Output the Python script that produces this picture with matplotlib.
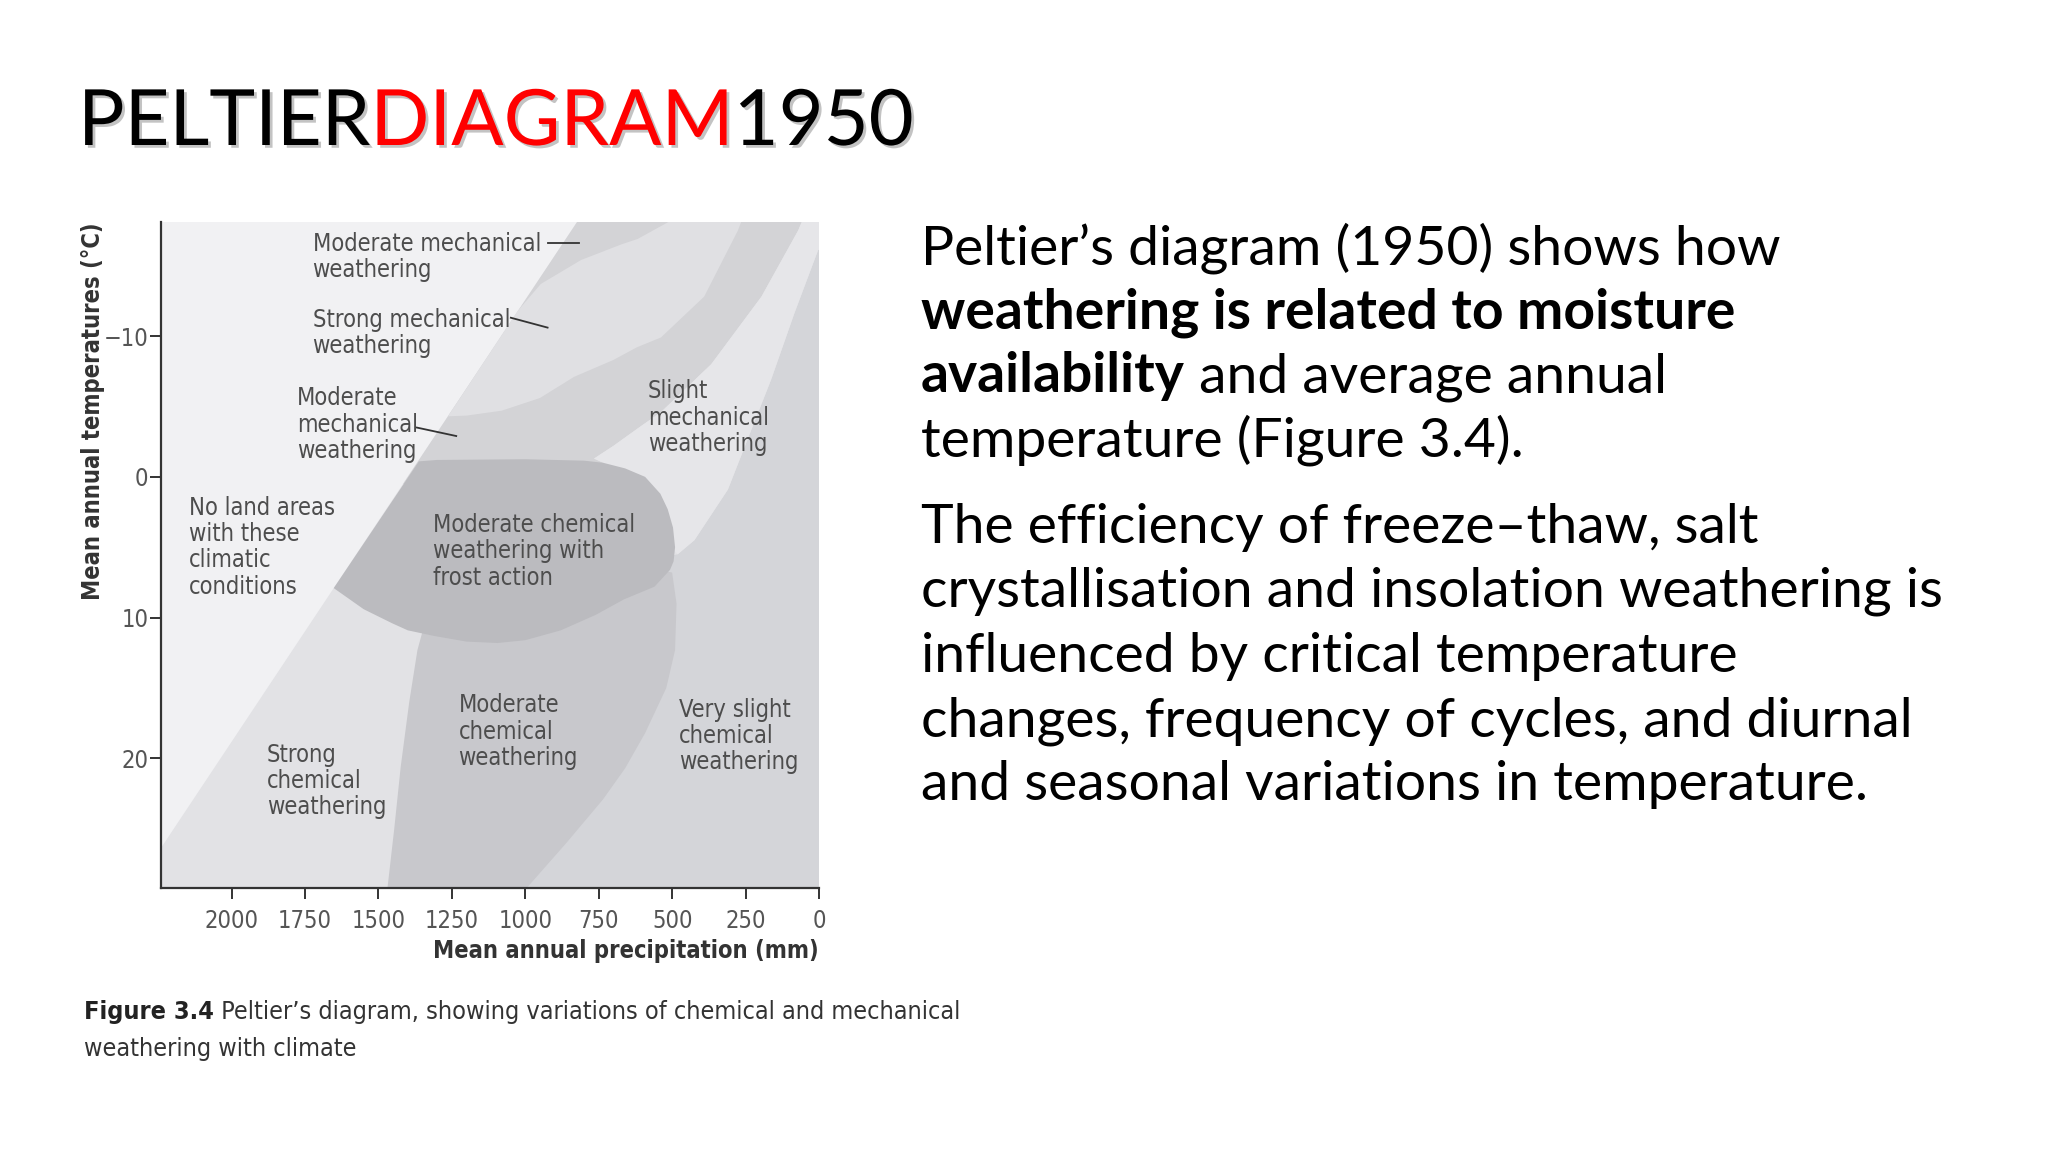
import matplotlib
matplotlib.use("Agg")
import matplotlib.pyplot as plt
import matplotlib.patheffects as pe
from matplotlib.patches import Polygon
from matplotlib.transforms import IdentityTransform
from matplotlib import font_manager
from matplotlib.font_manager import FontProperties

# axis ticks
precip_ticks = [2000, 1750, 1500, 1250, 1000, 750, 500, 250, 0]
temp_ticks = [-10, 0, 10, 20]
temp_tick_labels = ["\u221210", "0", "10", "20"]

# region outlines, as (precipitation mm, temperature degC)
land_area = [(2388, 31), (763, -20), (-50, -20), (-50, 31)]
very_slight_chem = [(-50, 31), (1100, 31), (900, 20), (700, 12), (600, 6), (481, 5.5),
                    (424, 4.5), (310, 0.9), (231, -3.3), (163, -6.9), (84, -11.6),
                    (3, -16.1), (-50, -16.6)]
moderate_chem = [(1480, 31), (1469, 29.2), (1446, 25), (1424, 20.6), (1395, 16),
                 (1367, 12.3), (1350, 11), (1000, 11), (700, 8.5), (540, 6.6), (500, 6.8),
                 (485, 9), (490, 12.3), (520, 15), (592, 18.2), (660, 20.7), (735, 22.9),
                 (860, 26), (995, 29.2), (1010, 31)]
moderate_mech = [(1416, 0.5), (763, -20), (20, -20), (71, -17.5), (196, -12.8), (367, -8.0),
                 (538, -4.6), (620, -3.4), (700, -2.2), (766, -1.3), (735, -1.0), (700, 0.5)]
strong_mech = [(1263, -4.3), (1025, -11.8), (947, -13.7), (810, -15.4), (674, -16.5),
               (617, -16.9), (504, -18.2), (470, -20), (230, -20), (276, -17.5), (391, -12.8),
               (538, -9.9), (620, -9.2), (700, -8.3), (834, -7.1), (950, -5.6), (1080, -4.7),
               (1200, -4.35)]
slight_mech = [(20, -20), (-50, -20), (-50, -16.6), (3, -16.1), (84, -11.6), (163, -6.9),
               (231, -3.3), (310, 0.9), (424, 4.5), (481, 5.5), (600, 3), (700, 0.5),
               (735, -1.0), (766, -1.3), (700, -2.2), (620, -3.4), (538, -4.6), (367, -8.0),
               (196, -12.8), (71, -17.5)]
frost_action = [(1362, -1.1), (1300, -1.2), (1000, -1.25), (800, -1.15), (735, -1.0),
                (660, -0.6), (592, 0), (540, 1.2), (515, 2.3), (497, 3.6), (490, 5.0),
                (495, 6.0), (507, 6.6), (560, 7.8), (664, 8.7), (760, 9.8), (879, 10.9),
                (1000, 11.6), (1094, 11.8), (1200, 11.7), (1310, 11.3), (1400, 10.9),
                (1453, 10.4), (1550, 9.4), (1652, 7.9)]

regions = [
    (land_area, "#e2e2e5"),
    (very_slight_chem, "#d4d5d9"),
    (moderate_chem, "#c8c8cc"),
    (moderate_mech, "#d3d3d6"),
    (strong_mech, "#e0e0e3"),
    (slight_mech, "#e6e6e9"),
    (frost_action, "#bbbbbf"),
]

# labels: (text, precip, temp)
labels = [
    ("Moderate mechanical\nweathering", 1724, -15.6),
    ("Strong mechanical\nweathering", 1724, -10.2),
    ("Moderate\nmechanical\nweathering", 1778, -3.7),
    ("No land areas\nwith these\nclimatic\nconditions", 2146, 5.0),
    ("Moderate chemical\nweathering with\nfrost action", 1315, 5.3),
    ("Slight\nmechanical\nweathering", 582, -4.2),
    ("Moderate\nchemical\nweathering", 1227, 18.1),
    ("Strong\nchemical\nweathering", 1880, 21.6),
    ("Very slight\nchemical\nweathering", 476, 18.4),
]
pointers = [((924, -16.6), (818, -16.6)),
            ((1049, -11.3), (924, -10.6)),
            ((1369, -3.5), (1235, -2.9))]

body_lines = [
    [("Peltier\u2019s diagram (1950) shows how", "normal")],
    [("weathering is related to moisture", "bold")],
    [("availability", "bold"), (" and average annual", "normal")],
    [("temperature (Figure 3.4).", "normal")],
    None,
    [("The efficiency of freeze\u2013thaw, salt", "normal")],
    [("crystallisation and insolation weathering is", "normal")],
    [("influenced by critical temperature", "normal")],
    [("changes, frequency of cycles, and diurnal", "normal")],
    [("and seasonal variations in temperature.", "normal")],
]

caption_runs = [("Figure 3.4", "bold", "#222222"),
                (" Peltier\u2019s diagram, showing variations of chemical and mechanical", "normal", "#333333")]
caption_line2 = [("weathering with climate", "normal", "#333333")]


def weight_value(w):
    if isinstance(w, str):
        return {"normal": 400, "regular": 400, "book": 400, "medium": 500,
                "semibold": 600, "bold": 700}.get(w.lower(), 400)
    return int(w)


def narrow_font(bold):
    # look for a condensed sans face to stand in for the book's Myriad
    want = 700 if bold else 400
    condensed = ("condensed", "semi-condensed", "extra-condensed")
    ttf = font_manager.fontManager.ttflist
    for base in ["Liberation Sans Narrow", "Noto Sans", "DejaVu Sans", "Open Sans", "Roboto"]:
        for f in ttf:
            if f.style != "normal" or abs(weight_value(f.weight) - want) > 50:
                continue
            if not f.fname.lower().endswith((".ttf", ".otf")):
                continue
            named = f.name.startswith(base) and ("Narrow" in f.name or "Condensed" in f.name)
            stretched = f.name == base and str(f.stretch) in condensed
            if named or stretched:
                return FontProperties(fname=f.fname)
    return FontProperties(family="Roboto", weight="bold" if bold else "normal")


names = {f.name for f in font_manager.fontManager.ttflist}
slide_font = "Lato" if "Lato" in names else "DejaVu Sans"
chart_fp = {"normal": narrow_font(False), "bold": narrow_font(True)}
slide_fp = {"normal": FontProperties(family=slide_font),
            "bold": FontProperties(family=slide_font, weight="bold")}

W, H = 2048, 1152
fig = plt.figure(figsize=(W / 100, H / 100), dpi=100)
fig.patch.set_facecolor("white")
renderer = fig.canvas.get_renderer()


def fp_sized(fp, size):
    f = fp.copy()
    f.set_size(size)
    return f


def text_width(s, fp, size):
    t = fig.text(0, 0, s, fontproperties=fp_sized(fp, size))
    w = t.get_window_extent(renderer).width
    t.remove()
    return w


def draw_runs(x, y_top, runs, fps, size, **kw):
    y = H - y_top
    for s, weight, color in runs:
        t = fig.text(x, y, s, transform=IdentityTransform(), fontproperties=fp_sized(fps[weight], size),
                     color=color, va="baseline", **kw)
        x += t.get_window_extent(renderer).width


# chart text size: fit "Moderate mechanical" to its width in the figure
lsize = 18 * 230 / text_width("Moderate mechanical", chart_fp["normal"], 18)
label_fp = fp_sized(chart_fp["normal"], lsize)
bold_fp = fp_sized(chart_fp["bold"], lsize)

ax = fig.add_axes([161 / W, 1 - 888 / H, (819 - 161) / W, (888 - 222) / H])
ax.set_facecolor("#f1f1f3")
for pts, col in regions:
    ax.add_patch(Polygon(pts, closed=True, facecolor=col, edgecolor="none"))
ax.set_xlim(2240, 0)
ax.set_ylim(29.2, -18.1)
ax.set_xticks(precip_ticks)
ax.set_yticks(temp_ticks)
ax.set_yticklabels(temp_tick_labels)
for s in ["top", "right"]:
    ax.spines[s].set_visible(False)
for s in ["left", "bottom"]:
    ax.spines[s].set_color("#333333")
    ax.spines[s].set_linewidth(1.6)
ax.tick_params(direction="out", length=8, width=1.4, color="#333333", labelcolor="#555555")
ax.tick_params(axis="x", pad=7)
ax.tick_params(axis="y", pad=1)
for lab in ax.get_xticklabels() + ax.get_yticklabels():
    lab.set_fontproperties(label_fp)

for txt, p, t in labels:
    ax.text(p, t, txt, fontproperties=label_fp, color="#4d4d4d",
            ha="left", va="center", linespacing=1.12)
for (p0, t0), (p1, t1) in pointers:
    ax.plot([p0, p1], [t0, t1], color="#333333", lw=1.3)

ax.text(-0.104, 1.0, "Mean annual temperatures (\u00b0C)", transform=ax.transAxes,
        rotation=90, ha="center", va="top", fontproperties=bold_fp, color="#333333")
ax.text(1.0, -0.095, "Mean annual precipitation (mm)", transform=ax.transAxes,
        ha="right", va="center", fontproperties=bold_fp, color="#333333")

# title
title_runs = [("PELTIER", "normal", "black"), ("DIAGRAM", "normal", "#ff0000"),
              ("1950", "normal", "black")]
tsize = 60 * 836 / text_width("PELTIERDIAGRAM1950", slide_fp["normal"], 60)
shadow = [pe.SimplePatchShadow(offset=(2, -2), shadow_rgbFace="#888888", alpha=0.5), pe.Normal()]
draw_runs(78, 145, title_runs, slide_fp, tsize, path_effects=shadow)

# body text
bsize = 36 * 1025 / text_width("crystallisation and insolation weathering is", slide_fp["normal"], 36)
line_y = [264, 328, 392, 457, None, 543, 607, 672, 736, 800]
for runs, yy in zip(body_lines, line_y):
    if runs is None:
        continue
    draw_runs(921, yy, [(s, w, "black") for s, w in runs], slide_fp, bsize)

# caption, sized so the first line spans the same width as in the slide
cap_w = sum(text_width(s, chart_fp[w], 18) for s, w, _ in caption_runs)
csize = 18 * 876 / cap_w
draw_runs(84, 1019, caption_runs, chart_fp, csize)
draw_runs(84, 1056, caption_line2, chart_fp, csize)

fig.savefig("out.png", dpi=100, facecolor="white")
